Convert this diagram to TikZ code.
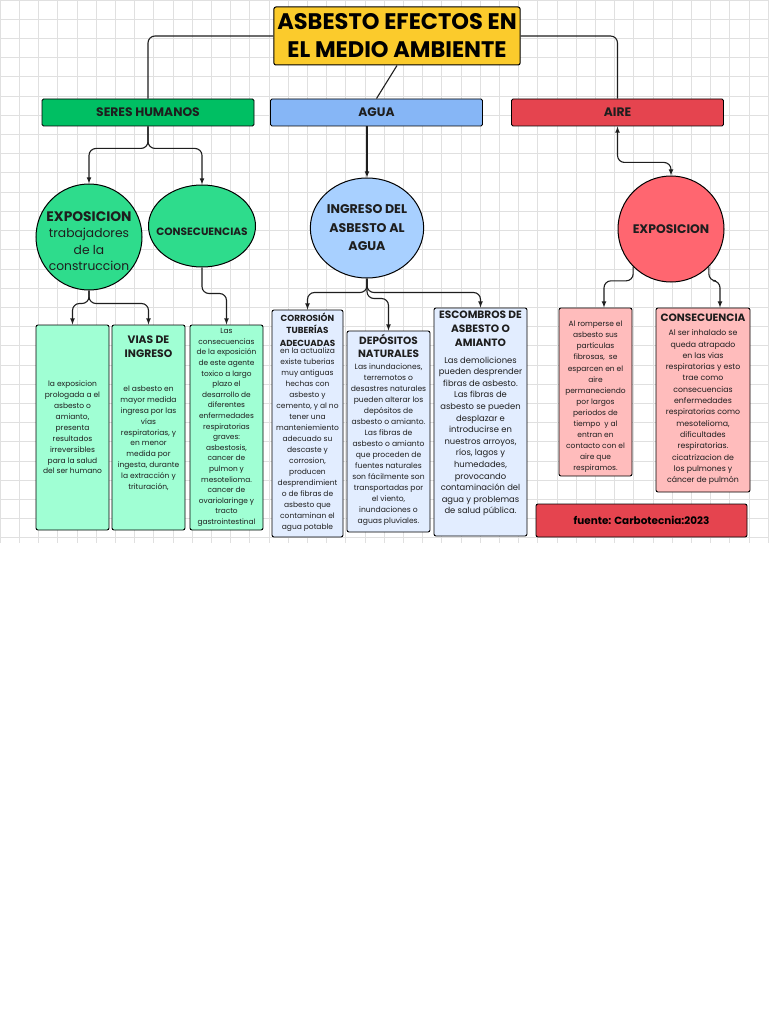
\documentclass[tikz,border=0pt]{standalone}
\usepackage{fontspec}
\setmainfont{Poppins}
\usetikzlibrary{shapes.geometric}
\usetikzlibrary{arrows}
\usetikzlibrary{positioning}

\definecolor{amarillo}{HTML}{FBCB2C}
\definecolor{verdeseres}{HTML}{00BF63}
\definecolor{azulagua}{HTML}{86B6F6}
\definecolor{rojoaire}{HTML}{E5444F}
\definecolor{verdecirc}{HTML}{2EDC8C}
\definecolor{azulcirc}{HTML}{A8D0FF}
\definecolor{rojocirc}{HTML}{FF6670}
\definecolor{menta}{HTML}{A0FFD4}
\definecolor{celeste}{HTML}{E2EDFF}
\definecolor{rosa}{HTML}{FFBCBC}
\definecolor{tinta}{HTML}{1E1E1E}

\tikzset{
  rejilla/.style={black!12, line width=0.6pt},
  linea/.style={line width=1.1pt, draw=tinta, rounded corners=7pt},
  flecha/.style={linea, -latex},
  titulo/.style={draw, line width=1pt, fill=amarillo, rounded corners=2pt, minimum width=246pt, minimum height=58pt, align=center, font=\bfseries\fontsize{22.5}{28}\selectfont},
  categoria/.style={draw, line width=0.9pt, rounded corners=1.5pt, minimum width=212pt, minimum height=27pt, text=tinta, font=\bfseries\fontsize{12.3}{14}\selectfont},
  burbuja/.style={draw, line width=1pt, inner sep=0pt, align=center, text=tinta},
  caja/.style={draw, line width=0.9pt, rounded corners=2pt, inner sep=0pt, align=center, text=tinta},
  texto/.style={inner sep=0pt, align=center, text=tinta},
}

\begin{document}
\begin{tikzpicture}[x=1pt, y=-1pt]
\useasboundingbox (0,0) rectangle (768,1024);
\fill[white] (0,0) rectangle (768,1024);
\foreach \gx in {0,19.2,...,768} \draw[rejilla] (\gx,0) -- (\gx,543);
\foreach \gy in {0,19.2,...,543} \draw[rejilla] (0,\gy) -- (768,\gy);

\node[titulo] (titulo) at (397,36) {ASBESTO EFECTOS EN\\EL MEDIO AMBIENTE};

\node[categoria, fill=verdeseres] (seres) at (148,112.5) {SERES HUMANOS};
\node[categoria, fill=azulagua] (agua) at (376.5,112.5) {AGUA};
\node[categoria, fill=rojoaire] (aire) at (617.5,112.5) {AIRE};

\node[burbuja, circle, fill=verdecirc, minimum size=106pt] (expo1) at (89,237) {};
\node[texto, font=\fontsize{12.3}{16.5}\selectfont, yshift=-4pt] (expo1t) at (expo1.center)
  {{\bfseries\fontsize{13.8}{16.5}\selectfont EXPOSICION}\\trabajadores\\de la\\construccion};
\node[burbuja, ellipse, fill=verdecirc, minimum width=107pt, minimum height=82pt] (consec) at (202,226) {};
\node[texto, font=\bfseries\fontsize{10.6}{12}\selectfont, yshift=-6pt] (consect) at (consec.center) {CONSECUENCIAS};
\node[burbuja, ellipse, fill=azulcirc, minimum width=106pt, minimum height=100pt, font=\bfseries\fontsize{12.6}{18.5}\selectfont] (ingreso) at (367,228) {INGRESO DEL\\ASBESTO AL\\AGUA};
\node[burbuja, circle, fill=rojocirc, minimum size=106pt, font=\bfseries\fontsize{12.4}{16}\selectfont] (expo3) at (671,229) {EXPOSICION};

% seres humanos
\node[caja, fill=menta, minimum width=73pt, minimum height=205pt, font=\fontsize{7.5}{10.9}\selectfont] (c1) at (72.5,427.5)
  {la exposicion\\prologada a el\\asbesto o\\amianto,\\presenta\\resultados\\irreversibles\\para la salud\\del ser humano};
\node[caja, fill=menta, minimum width=73pt, minimum height=205pt] (c2) at (148.5,427.5) {};
\node[texto, font=\bfseries\fontsize{10.8}{14}\selectfont, below=11pt of c2.north] (c2a) {VIAS DE\\INGRESO};
\node[texto, font=\fontsize{7.5}{10.9}\selectfont, below=28pt of c2a] (c2b)
  {el asbesto en\\mayor medida\\ingresa por las\\vías\\respiratorias, y\\en menor\\medida por\\ingesta, durante\\la extracción y\\trituración,};
\node[caja, fill=menta, minimum width=73pt, minimum height=205pt, font=\fontsize{7.4}{10.6}\selectfont] (c3) at (226.5,427.5)
  {Las\\consecuencias\\de la exposición\\de este agente\\toxico a largo\\plazo el\\desarrollo de\\diferentes\\enfermedades\\respiratorias\\graves:\\asbestosis,\\cancer de\\pulmon y\\mesotelioma.\\cancer de\\ovariolaringe y\\tracto\\gastrointestinal};

% agua
\node[caja, fill=celeste, minimum width=71pt, minimum height=227pt] (d1) at (307.5,423.5) {};
\node[texto, font=\bfseries\fontsize{8.8}{12.5}\selectfont, below=3pt of d1.north] (d1a) {CORROSIÓN\\TUBERÍAS\\ADECUADAS};
\node[texto, font=\fontsize{7.5}{11}\selectfont, below=1pt of d1a] (d1b)
  {en la actualiza\\existe tuberias\\muy antiguas\\hechas con\\asbesto y\\cemento, y al no\\tener una\\manteniemiento\\adecuado su\\descaste y\\corrosion,\\producen\\desprendimient\\o de fibras de\\asbesto que\\contaminan el\\agua potable};
\node[caja, fill=celeste, minimum width=83pt, minimum height=201pt] (d2) at (388.5,431.5) {};
\node[texto, font=\bfseries\fontsize{10.5}{13}\selectfont, below=3pt of d2.north] (d2a) {DEPÓSITOS\\NATURALES};
\node[texto, font=\fontsize{7.6}{11}\selectfont, below=6pt of d2a] (d2b)
  {Las inundaciones,\\terremotos o\\desastres naturales\\pueden alterar los\\depósitos de\\asbesto o amianto.\\Las fibras de\\asbesto o amianto\\que proceden de\\fuentes naturales\\son fácilmente son\\transportadas por\\el viento,\\inundaciones o\\aguas pluviales.};
\node[caja, fill=celeste, minimum width=93pt, minimum height=228pt] (d3) at (480.5,422) {};
\node[texto, font=\bfseries\fontsize{10.6}{14}\selectfont, below=3pt of d3.north] (d3a) {ESCOMBROS DE\\ASBESTO O\\AMIANTO};
\node[texto, font=\fontsize{8.4}{11.6}\selectfont, below=10pt of d3a] (d3b)
  {Las demoliciones\\pueden desprender\\fibras de asbesto.\\Las fibras de\\asbesto se pueden\\desplazar e\\introducirse en\\nuestros arroyos,\\ríos, lagos y\\humedades,\\provocando\\contaminación del\\agua y problemas\\de salud pública.};

% aire
\node[caja, fill=rosa, minimum width=73pt, minimum height=168pt] (e1) at (595.5,392) {};
\node[texto, font=\fontsize{7.5}{11.1}\selectfont, yshift=-5pt] (e1b) at (e1.center)
  {Al romperse el\\asbesto sus\\partículas\\fibrosas,\ \ se\\esparcen en el\\aire\\permaneciendo\\por largos\\periodos de\\tiempo\ \ y al\\entran en\\contacto con el\\aire que\\respiramos.};
\node[caja, fill=rosa, minimum width=94pt, minimum height=184pt] (e2) at (703,400) {};
\node[texto, font=\bfseries\fontsize{10.6}{12}\selectfont, below=6pt of e2.north] (e2a) {CONSECUENCIA};
\node[texto, font=\fontsize{7.8}{11.3}\selectfont, below=8pt of e2a] (e2b)
  {Al ser inhalado se\\queda atrapado\\en las vias\\respiratorias y esto\\trae como\\consecuencias\\enfermedades\\respiratorias como\\mesotelioma,\\dificultades\\respiratorias.\\cicatrizacion de\\los pulmones y\\cáncer de pulmón};

\node[caja, fill=rojoaire, minimum width=211pt, minimum height=33pt, font=\bfseries\fontsize{10.4}{12}\selectfont, text=black] (fuente) at (641.5,520.5) {fuente: Carbotecnia:2023};

% conectores
\draw[linea] (titulo.west) -| (seres.north);
\draw[linea] (titulo.east) -| (aire.north);
\draw[linea] (titulo.south) -- (agua.north);
\draw[flecha] (seres.south) -- ++(0,22) -| (expo1.north);
\draw[flecha] (seres.south) -- ++(0,22) -| (consec.north);
\draw[flecha] (agua.south -| ingreso.north) -- (ingreso.north);
\draw[linea, latex-latex] (aire.south) -- ++(0,36) -| (expo3.north);
\draw[flecha] (expo1.south) -- ++(0,13) -| (c1.north);
\draw[flecha] (expo1.south) -- ++(0,13) -| (c2.north);
\draw[flecha] (consec.south) -- ++(0,26) -| (c3.north);
\draw[flecha] (ingreso.south) -- ++(0,14) -| (d1.north);
\draw[flecha] (ingreso.south) -- ++(0,14) -| (d3.north);
\draw[flecha] (ingreso.south) -- ++(0,20) -| (d2.north);
\draw[flecha] (expo3.-135) -- ++(0,14) -| ([xshift=8.5pt]e1.north);
\draw[flecha] (expo3.-45) -- ++(0,14) -| ([xshift=17pt]e2.north);
\end{tikzpicture}
\end{document}
